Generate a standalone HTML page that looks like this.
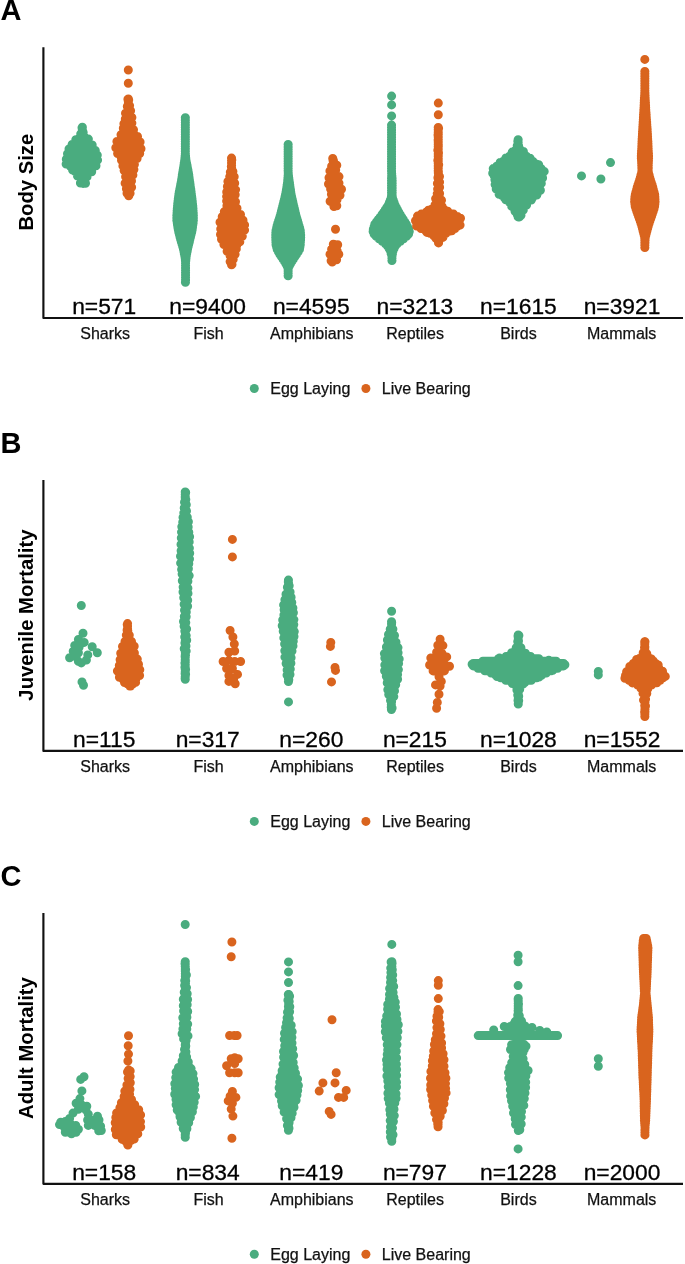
<!DOCTYPE html>
<html><head><meta charset="utf-8"><title>Figure</title>
<style>html,body{margin:0;padding:0;background:#fff}svg{display:block}text{font-family:"Liberation Sans",Arial,sans-serif}</style>
</head><body>
<svg width="685" height="1264" viewBox="0 0 685 1264">
<rect width="685" height="1264" fill="#fff"/>
<g fill="none" stroke-width="9" stroke-linecap="round">
<path d="M82.3 127.2H82.4M82.3 129.6H82.4M82.3 132.1H82.4M82.3 134.5H82.4M80.4 136.9H84.3M78.2 139.4H86.3M76.1 141.8H88.1M74 144.3H90M72.2 146.7H91.8M70.9 149.2H93.2M70.4 151.6H93.8M69.8 154.1H94.4M68.8 156.5H95.2M67.7 159H95.9M67.3 161.4H96.1M68.3 163.9H95M70.3 166.3H93.5M72.5 168.7H92M74.8 171.2H90.2M77.2 173.6H88M79.5 176.1H86M80.7 178.5H85M82 181H84M83 183.4H83.2M82 127.8h.01M80.7 133.9h.01M75.8 139.8h.01M72.1 144.4h.01M69 149h.01M67.5 153.7h.01M66.3 159.3h.01M66.1 164.1h.01M72.6 170.1h.01M77.5 176.1h.01M80.4 183h.01M82 127.7h.01M83.2 132.5h.01M88.4 139.1h.01M92.2 145h.01M95.3 150.5h.01M97.3 155.1h.01M97.6 160.1h.01M96 165.7h.01M91.7 171.7h.01M87 176.9h.01M85.5 183.2h.01" stroke="#4AAC7F"/>
<path d="M128.3 99H128.4M128.3 101.4H128.4M128.3 103.8H128.4M128.5 106.3H128.6M128.7 108.7H128.8M128.5 111.1H128.7M127.9 113.5H129M127.4 115.9H129.3M126.9 118.4H129.5M126.4 120.8H129.7M125.9 123.2H130.1M125.4 125.6H130.9M124.9 128H131.6M124.4 130.5H132.4M123.5 132.9H133.5M122.6 135.3H134.7M121.4 137.7H136M119.9 140.1H137.2M118.5 142.6H138.3M117.9 145H139.2M117.5 147.4H139.9M117.9 149.8H139.4M118.9 152.3H138.1M119.9 154.7H136.8M121.1 157.1H135.6M122.3 159.5H134.4M123.3 161.9H133.4M124 164.4H132.7M124.8 166.8H132M125.4 169.2H131.3M125.8 171.6H131.1M126.2 174H130.9M126.6 176.5H130.7M126.9 178.9H130.5M127.1 181.3H130.3M127.3 183.7H130.1M127.5 186.1H129.9M128 188.6H129.5M128.5 191H129M128.7 193.4H128.8M128.7 195.8H128.8M128.7 100h.01M127.3 106.4h.01M125.5 113.3h.01M125.3 118.9h.01M123.9 123.7h.01M123.3 128.3h.01M121 134.7h.01M116.9 141.4h.01M115.8 147.7h.01M117.6 153.6h.01M121.5 160.2h.01M122.9 165.9h.01M124.1 170.6h.01M125.6 176.7h.01M125.1 183.2h.01M126.4 188.7h.01M127 193.3h.01M127.9 99.2h.01M129.6 105.6h.01M130.6 110.8h.01M131.9 117.4h.01M131.9 123.1h.01M133.5 129.8h.01M137.5 136.4h.01M140.1 142h.01M141 148.7h.01M139.7 153.6h.01M137.1 158.6h.01M134.4 164.4h.01M133.9 169.5h.01M132.9 175.1h.01M131.5 181h.01M131.6 187.2h.01M130.1 193.2h.01M128.3 70h.01M128.3 83.2h.01" stroke="#D9641E"/>
<path d="M185.3 117.8H185.4M185.3 120.2H185.4M185.3 122.6H185.4M185.3 125H185.4M185.3 127.4H185.4M185.3 129.7H185.4M185.3 132.1H185.4M185.3 134.5H185.4M185.3 136.9H185.4M185.3 139.3H185.4M185.3 141.6H185.4M185.3 144H185.4M185.3 146.4H185.4M185.3 148.8H185.4M185.3 151.2H185.4M185.3 153.6H185.4M185.1 155.9H185.6M184.9 158.3H185.8M184.6 160.7H186.1M184.2 163.1H186.6M183.9 165.5H187.1M183.5 167.9H187.5M183.1 170.2H188M182.7 172.6H188.4M182.3 175H188.8M182 177.4H189.1M181.6 179.8H189.4M181.2 182.2H189.8M180.7 184.5H190.1M180.3 186.9H190.4M179.8 189.3H190.8M179.3 191.7H191.1M178.9 194.1H191.4M178.6 196.5H191.7M178.3 198.8H192M178 201.2H192.3M177.7 203.6H192.5M177.5 206H192.8M177.3 208.4H193M177.1 210.8H193.1M177 213.1H193.3M176.8 215.5H193.4M176.8 217.9H193.4M176.8 220.3H193.4M177.2 222.7H193.2M177.5 225H192.8M177.9 227.4H192.5M178.3 229.8H192.2M178.8 232.2H191.7M179.4 234.6H191.1M180 237H190.5M180.6 239.3H189.9M181.3 241.7H189.4M182 244.1H188.8M182.7 246.5H188.2M183.4 248.9H187.6M183.9 251.3H187.2M184.3 253.6H186.7M184.8 256H186.3M185.2 258.4H186M185.4 260.8H185.8M185.5 263.2H185.6M185.5 265.6H185.6M185.5 267.9H185.6M185.5 270.3H185.6M185.5 272.7H185.6M185.5 275.1H185.6M185.5 277.5H185.6M185.5 279.9H185.6M185.4 282.2H185.5" stroke="#4AAC7F"/>
<path d="M231.5 158.1H231.6M231.5 160.5H231.6M231.5 163H231.6M231.5 165.4H231.6M231.5 167.8H231.6M231.5 170.2H231.6M231.5 172.6H231.6M231.5 175.1H231.6M231.4 177.5H231.7M230.9 179.9H232.2M230.4 182.3H232.7M230.2 184.8H232.9M229.9 187.2H233.1M229.7 189.6H233.3M229.5 192H233.5M229.3 194.5H233.6M229.1 196.9H233.8M229 199.3H233.9M228.8 201.7H234.1M228.7 204.1H234.2M228.1 206.6H234.9M227.6 209H235.7M227 211.4H236.6M225.9 213.8H237.7M224.7 216.3H238.9M223.9 218.7H240M223 221.1H241M222.5 223.5H241.6M222.2 226H241.9M221.9 228.4H242.1M222 230.8H242.1M222.4 233.2H241.8M222.9 235.6H241.3M223.8 238.1H240.2M224.7 240.5H239.1M225.6 242.9H238M226.7 245.3H236.8M227.9 247.8H235.6M229.2 250.2H234.4M230.3 252.6H233.2M231.1 255H232.3M231.6 257.5H231.7M231.5 259.9H231.6M231.5 262.3H231.6M231.5 264.7H231.6M231.8 159.9h.01M231.3 166.6h.01M230.3 172.1h.01M229.7 176.8h.01M227.9 181.5h.01M227.4 186.5h.01M226.7 191.9h.01M226.6 196.4h.01M226.6 201.1h.01M226.9 205.7h.01M224.3 211.7h.01M222.2 216.8h.01M220 222.3h.01M220.7 228.9h.01M220.5 234.5h.01M221.5 239.3h.01M223.9 244.6h.01M227.1 251.2h.01M230.1 255.7h.01M230.1 261.6h.01M231.5 158.2h.01M231.6 165.1h.01M232.9 171.4h.01M234.2 176.8h.01M234.7 183.2h.01M235.6 189.6h.01M235.2 194.7h.01M235.5 201.7h.01M237 208.2h.01M240.5 214.5h.01M243 220.3h.01M244.6 224.9h.01M244.6 230.1h.01M242.3 236.3h.01M239.8 241.9h.01M236.3 248.9h.01M235.1 254.3h.01M233.2 259.4h.01M232 264.4h.01" stroke="#D9641E"/>
<path d="M288.1 144.5H288.2M288.1 146.9H288.2M288.1 149.3H288.2M288.1 151.7H288.2M288.1 154.1H288.2M288.1 156.5H288.2M288.1 158.8H288.2M288.1 161.2H288.2M288.1 163.6H288.2M288.1 166H288.2M288.1 168.4H288.2M288.1 170.8H288.2M288.2 173.1H288.3M288.1 175.5H288.5M287.9 177.9H288.8M287.7 180.3H289.1M287.5 182.7H289.5M287.1 185.1H289.8M286.8 187.5H290.1M286.4 189.8H290.5M286 192.2H290.8M285.5 194.6H291.2M285 197H291.7M284.4 199.4H292.3M283.8 201.8H292.8M283.2 204.1H293.3M282.6 206.5H293.9M282 208.9H294.5M281.4 211.3H295M280.8 213.7H295.6M280.1 216.1H296.2M279.4 218.4H296.9M278.6 220.8H297.6M277.8 223.2H298.3M277.1 225.6H299M276.6 228H299.7M276 230.4H300.3M275.8 232.8H300.5M275.7 235.1H300.7M275.7 237.5H300.7M275.8 239.9H300.6M275.9 242.3H300.4M276 244.7H300.3M276.6 247.1H299.9M277.2 249.4H299.5M278.4 251.8H298.2M279.8 254.2H296.6M281.3 256.6H295M282.9 259H293.5M284.5 261.4H291.9M285.9 263.7H290.5M287.1 266.1H289.3M288 268.5H288.3M288.1 270.9H288.2M288.1 273.3H288.2M288.1 275.7H288.2" stroke="#4AAC7F"/>
<path d="M332.7 158.4H332.8M333.4 160.8H333.5M333.7 163.2H333.8M333.5 165.6H333.6M333.2 168H333.6M332.4 170.4H333.9M331.8 172.8H334.3M331.5 175.2H335M331.1 177.6H335.7M331 180H336.4M331.2 182.4H337.1M331.3 184.8H337.8M332.1 187.2H338.4M333 189.6H338.4M333.6 192H337.9M333.5 194.4H336.7M333.2 196.8H335.8M333.1 199.2H335.3M333.1 201.6H334.9M333.3 204H334.5M333.9 206.5H334M333.2 160h.01M331.6 166.2h.01M329.9 170.9h.01M329 177.7h.01M328.5 184h.01M330.6 189h.01M331.4 194.3h.01M330.1 201.2h.01M333 160.3h.01M336.8 165.2h.01M335.7 170.1h.01M339 176.6h.01M339 183.1h.01M341.5 189.3h.01M340 195.2h.01M337 199.7h.01M336.8 205.8h.01M335.5 229.2h.01M333.3 244.2h.01M337.7 244.8h.01M331.6 249.2h.01M337.2 250.9h.01M330 254.2h.01M338.8 254.2h.01M333.8 256.4h.01M331.1 260.8h.01M336.6 259.7h.01M332.2 262h.01" stroke="#D9641E"/>
<path d="M391.5 125.1H391.6M391.5 127.5H391.6M391.5 129.9H391.6M391.5 132.3H391.6M391.5 134.8H391.6M391.5 137.2H391.6M391.5 139.6H391.6M391.5 142H391.6M391.5 144.4H391.6M391.5 146.9H391.6M391.5 149.3H391.6M391.5 151.7H391.6M391.5 154.1H391.6M391.5 156.5H391.6M391.5 159H391.6M391.5 161.4H391.6M391.5 163.8H391.6M391.5 166.2H391.6M391.5 168.6H391.6M391.5 171.1H391.6M391.6 173.5H391.7M391.6 175.9H391.9M391.5 178.3H392.1M391.5 180.7H392.2M391.5 183.2H392.2M391.5 185.6H392.2M391.5 188H392.2M391.5 190.4H392.2M391.5 192.8H392.2M391.5 195.3H392.2M391.2 197.7H392.5M390.3 200.1H393.3M389.4 202.5H394.1M388.4 204.9H395M386.8 207.4H396.3M385.3 209.8H397.5M383.7 212.2H398.8M381.9 214.6H400.3M380.1 217.1H401.8M378.3 219.5H403.3M376.4 221.9H404.9M374.8 224.3H406.3M374.1 226.7H407.5M373.3 229.2H408.8M373.1 231.6H409.3M374.1 234H408.6M376.2 236.4H406.5M379 238.8H403.6M382.2 241.3H400.4M385.4 243.7H397.2M387.5 246.1H395.3M389.1 248.5H394.1M390.5 250.9H393M391.1 253.4H392.5M391.8 255.8H392.1M391.9 258.2H392M391.9 260.6H392M391.6 96.1h.01M391.6 104.9h.01M391.6 115.9h.01" stroke="#4AAC7F"/>
<path d="M438.2 127.4H438.3M438.2 129.8H438.3M438.2 132.2H438.3M438.2 134.6H438.3M438.2 137H438.3M438.2 139.5H438.3M438.2 141.9H438.3M438.2 144.3H438.3M438.2 146.7H438.3M438.2 149.1H438.3M438.2 151.5H438.3M438.2 153.9H438.3M438.2 156.3H438.3M438.2 158.7H438.3M438.2 161.1H438.3M438.2 163.5H438.3M438.2 165.9H438.3M438.2 168.3H438.3M438.2 170.7H438.3M438.3 173.1H438.4M438.4 175.6H438.5M438.4 178H438.5M438.5 180.4H438.6M438.5 182.8H438.6M438.5 185.2H438.6M438.5 187.6H438.6M438.5 190H438.6M438.4 192.4H438.5M438 194.8H438.8M437.2 197.2H439.4M437 199.6H439.6M436.7 202H439.8M436.5 204.4H440.1M435.4 206.8H441.2M431.7 209.3H443.8M426.7 211.7H447.6M421.3 214.1H453.6M418.1 216.5H457.4M417.1 218.9H459M416.9 221.3H459.3M417.4 223.7H459M418.4 226.1H457.9M421 228.5H455M425.8 230.9H450.8M430 233.3H446M433.8 235.7H442.7M437 238.1H440.3M438.3 240.5H439M438.5 242.9H438.6M438.6 128.3h.01M438 134.9h.01M438.1 140h.01M438.3 145.1h.01M437.8 150.2h.01M438.3 155.1h.01M437.8 160.4h.01M438.3 166.4h.01M438.3 172h.01M437.9 177.7h.01M437.4 183.5h.01M437.6 189.1h.01M437.2 193.6h.01M435.6 198.6h.01M435 204.9h.01M428.4 210.2h.01M417.5 216.1h.01M415.5 220.8h.01M416.6 226h.01M426.9 232.4h.01M435.9 238.3h.01M438.4 128.3h.01M438.3 134.1h.01M438.2 140.3h.01M438.3 146.1h.01M438.5 153h.01M438.2 159.7h.01M438.7 164.8h.01M438.4 171.7h.01M439.5 176.5h.01M439.6 182.1h.01M439.6 187.2h.01M439.6 193.4h.01M441.5 200.2h.01M442.1 206.4h.01M447.7 211.3h.01M460.5 218.2h.01M460.1 225.1h.01M451.8 230.8h.01M442.9 237.4h.01M438.3 103.1h.01M438.3 114.7h.01" stroke="#D9641E"/>
<path d="M518.1 139.8H518.2M518.1 142.2H518.2M518.1 144.6H518.2M518 147H518.3M516.3 149.4H520.1M514.2 151.8H521.9M511.9 154.2H524M509 156.6H526.9M506 159H530M502.9 161.5H533M499.9 163.9H536M496.7 166.3H538.8M494.4 168.7H541.2M493.6 171.1H542.3M493.5 173.5H542.6M494.3 175.9H542.1M495.3 178.3H541.2M495.9 180.7H540.6M496.4 183.1H540.1M496.8 185.5H539.7M497.1 187.9H539.4M497.9 190.4H538.8M499.3 192.8H537.8M501.7 195.2H535.4M504.2 197.6H532.7M506.9 200H529.7M509.5 202.4H527.2M511.9 204.8H525M513.9 207.2H523.2M515.1 209.6H522M516.3 212H520.8M517.2 214.4H520.1M518.1 216.9H519.5M518 140.8h.01M517.2 145.8h.01M512.2 152.1h.01M505.9 158h.01M500.1 162.5h.01M493.2 168.6h.01M492.7 173.3h.01M494.9 179.7h.01M495.1 184.5h.01M496.2 189.1h.01M499.1 194.3h.01M505.8 199.8h.01M511.7 206.4h.01M515 211.2h.01M517.8 141.2h.01M518.6 145.8h.01M523.4 151.4h.01M530.1 158.2h.01M538.7 164.7h.01M544.2 171.4h.01M542.6 178h.01M541.3 183.4h.01M540.4 190.2h.01M536.8 195h.01M531.3 200.1h.01M526.6 205h.01M523.3 210h.01M521 215.3h.01" stroke="#4AAC7F"/>
<path d="M581.5 175.9h.01M600.9 179h.01M610.5 162.6h.01" stroke="#4AAC7F"/>
<path d="M644.8 71.4H644.9M644.8 73.8H644.9M644.8 76.2H644.9M644.8 78.6H644.9M644.8 81H644.9M644.8 83.4H644.9M644.8 85.8H644.9M644.8 88.3H644.9M644.8 90.7H644.9M644.7 93.1H645M644.6 95.5H645.1M644.4 97.9H645.2M644.3 100.3H645.3M644.2 102.7H645.5M644.1 105.2H645.6M644 107.6H645.7M643.8 110H645.8M643.7 112.4H646M643.5 114.8H646.2M643.4 117.2H646.3M643.3 119.6H646.5M643.1 122.1H646.7M643 124.5H646.8M642.8 126.9H647M642.7 129.3H647.2M642.5 131.7H647.3M642.4 134.1H647.5M642.3 136.5H647.6M642.1 139H647.7M642 141.4H647.9M641.9 143.8H648M641.8 146.2H648.1M641.7 148.6H648.2M641.5 151H648.3M641.4 153.4H648.5M641.3 155.9H648.6M641.3 158.3H648.6M641.5 160.7H648.5M641.6 163.1H648.4M641.7 165.5H648.3M641.8 167.9H648.3M641.9 170.3H648.2M641.6 172.8H648.5M640.9 175.2H649.2M640.3 177.6H649.8M639.6 180H650.5M638.8 182.4H651.3M638 184.8H652.1M637.2 187.2H652.8M636.6 189.7H653.4M635.9 192.1H654.1M635.3 194.5H654.7M634.9 196.9H654.9M634.7 199.3H655M634.6 201.7H655.1M634.9 204.1H654.9M635.2 206.5H654.6M636 209H654M636.8 211.4H653.2M637.6 213.8H652.4M638.5 216.2H651.6M639.3 218.6H650.8M640.2 221H649.9M641 223.4H649.1M641.8 225.9H648.3M642.4 228.3H647.7M643 230.7H647M643.6 233.1H646.4M644.2 235.5H645.8M644.7 237.9H645.2M644.8 240.3H645.1M644.8 242.8H645M644.8 245.2H644.9M644.8 247.6H644.9M644.8 59.4h.01" stroke="#D9641E"/>
<path d="M81.3 605.5h.01M83 633.2h.01M78.4 639.5h.01M84.2 642.4h.01M74.7 645.4h.01M92.2 646.8h.01M73.2 651.2h.01M78.4 652.7h.01M97.3 652.7h.01M69.6 657.8h.01M76.2 657h.01M87.8 654.9h.01M79.1 647.3h.01M78.4 661.4h.01M86.4 660h.01M81.3 662.9h.01M82 681.9h.01M83.5 685.2h.01" stroke="#4AAC7F"/>
<path d="M127.5 623.6H127.6M127.5 626H127.6M127.5 628.4H127.6M127.7 630.8H127.8M127.8 633.2H127.9M127.9 635.6H128M127.9 638H128M127.6 640.4H128.3M126.5 642.8H129.5M125.3 645.2H130.7M124.6 647.6H131.6M124.2 650H132.2M123.8 652.4H132.8M123.4 654.9H133.4M122.9 657.3H134.1M122.4 659.7H134.8M121.9 662.1H135.5M121.2 664.5H136M120.5 666.9H136.5M119.8 669.3H136.9M119.5 671.7H137.2M119.6 674.1H137.3M120.5 676.5H136.7M122.5 678.9H135.9M124.9 681.3H134.7M127.3 683.7H133.1M129.7 686.1H130.7M127.2 624.6h.01M127.1 630h.01M126.3 635.1h.01M125 641.4h.01M122.5 646.4h.01M120.7 653.2h.01M120.1 659.8h.01M119.3 665.5h.01M117.4 671h.01M119.4 677.2h.01M124.5 682.6h.01M127.4 624.9h.01M127.1 630.2h.01M129.3 635.1h.01M131.5 641.4h.01M134.2 646.3h.01M134.4 652.9h.01M137.3 659.1h.01M138.5 664.2h.01M139.8 669.8h.01M139.6 675.5h.01M135.6 682.4h.01" stroke="#D9641E"/>
<path d="M185.2 492H185.3M185.2 494.4H185.3M185.2 496.8H185.3M185.3 499.2H185.4M185.3 501.6H185.4M185.3 504H185.4M185.4 506.4H185.5M185.4 508.8H185.5M185.4 511.2H185.5M185.2 513.6H185.6M184.9 516H185.9M184.7 518.4H186.1M184.4 520.8H186.4M184.2 523.2H186.6M184 525.6H186.8M183.7 528H187.1M183.5 530.4H187.3M183.2 532.8H187.4M183 535.2H187.5M182.8 537.6H187.7M182.5 540H187.8M182.4 542.4H187.9M182.3 544.8H188M182.2 547.2H188.1M182.1 549.6H188.2M182 552H188.3M182.1 554.4H188.2M182.2 556.8H188.1M182.3 559.2H188M182.4 561.6H187.9M182.5 564H187.8M182.7 566.4H187.7M182.8 568.8H187.5M183 571.2H187.4M183.1 573.6H187.2M183.3 576H187.1M183.5 578.4H186.9M183.7 580.8H186.8M183.9 583.2H186.6M184 585.6H186.5M184.2 588H186.4M184.4 590.4H186.3M184.5 592.8H186.2M184.6 595.2H186.1M184.8 597.6H186M184.9 600H185.9M185.1 602.4H185.8M185.2 604.8H185.7M185.4 607.2H185.6M185.5 609.6H185.6M185.4 612H185.5M185.3 614.4H185.4M185.3 616.8H185.4M185.2 619.2H185.3M185.1 621.6H185.2M185.2 624H185.3M185.2 626.4H185.3M185.3 628.8H185.4M185.3 631.2H185.4M185.4 633.6H185.5M185.3 636H185.4M185.3 638.4H185.4M185.3 640.8H185.4M185.3 643.2H185.4M185.3 645.6H185.4M185.3 648H185.4M185.3 650.4H185.4M185.3 652.8H185.4M185.2 655.2H185.3M185.2 657.6H185.3M185.2 660H185.3M185.2 662.4H185.3M185.2 664.8H185.3M185.2 667.2H185.3M185.2 669.6H185.3M185.2 672H185.3M185.2 674.4H185.3M185.2 676.8H185.3M185.2 679.2H185.3M185.7 492.5h.01M185.2 497.8h.01M184.5 502.3h.01M184.2 508h.01M183.8 513h.01M183 517.5h.01M182.7 522.2h.01M181.8 526.8h.01M181.5 532.1h.01M181.3 538h.01M181 544.4h.01M181.1 550.7h.01M180.5 556.2h.01M180.6 563.1h.01M181.6 569.5h.01M182.1 574.1h.01M182.3 580.8h.01M183.1 587.1h.01M183 592h.01M183.7 597.7h.01M184.1 604.2h.01M184.5 610.2h.01M184.3 616.4h.01M183.5 621.5h.01M184.1 626.3h.01M184.8 631.1h.01M184.7 637h.01M184.9 643h.01M184.2 648.8h.01M185.5 655.3h.01M185.3 661h.01M184.9 667.2h.01M185.1 673.5h.01M185.1 678.2h.01M185.5 492.4h.01M185.8 499.4h.01M186.3 504.8h.01M186.5 511h.01M187.3 517.1h.01M188.4 521.8h.01M188.2 526.9h.01M188.8 532.2h.01M189.6 536.7h.01M189.2 541.9h.01M189.4 548.1h.01M189.7 553.3h.01M189.5 559h.01M188.8 563.8h.01M188.4 568.8h.01M189.2 575.6h.01M187.9 581.3h.01M187.9 588.2h.01M188 593.4h.01M187.7 600.2h.01M187.6 606.2h.01M186.3 612h.01M186.2 616.8h.01M185.8 622.6h.01M186.6 628.9h.01M186.2 635.6h.01M186.7 640.2h.01M186 645.9h.01M186.2 651.1h.01M185.1 656.5h.01M184.9 663.1h.01M185.6 669.5h.01M185.6 674.3h.01" stroke="#4AAC7F"/>
<path d="M232.4 539.4h.01M232.4 556.9h.01M230.1 630.5h.01M232.9 637h.01M234.3 644h.01M228.9 652.2h.01M234.7 651h.01M223.1 661.5h.01M228.9 660.4h.01M234.7 661.5h.01M240.6 661.5h.01M226.6 668.5h.01M232.4 668.5h.01M237.5 674.4h.01M228.9 675.5h.01M233.6 679.1h.01M228.9 681.4h.01M235.2 683.7h.01" stroke="#D9641E"/>
<path d="M288.4 580.1H288.5M288.4 582.5H288.5M288.4 584.9H288.5M288.4 587.3H288.5M288.4 589.7H288.5M287.7 592.2H289.2M287.3 594.6H289.5M286.9 597H289.8M286.5 599.4H290M286.1 601.8H290.3M285.7 604.2H290.6M285.4 606.7H290.9M285.2 609.1H291.2M285.1 611.5H291.5M284.9 613.9H291.7M284.7 616.3H292M284.6 618.7H292.3M284.4 621.2H292.5M284.2 623.6H292.7M284 626H292.9M283.8 628.4H293.1M284.1 630.8H292.9M284.4 633.2H292.6M284.6 635.6H292.3M284.9 638.1H292M285.2 640.5H291.7M285.5 642.9H291.5M285.7 645.3H291.2M286 647.7H291M286.2 650.1H290.7M286.4 652.6H290.5M286.7 655H290.3M286.9 657.4H290M287.2 659.8H289.7M287.5 662.2H289.4M287.8 664.6H289.1M288.1 667.1H288.9M288.3 669.5H288.6M288.4 671.9H288.5M288.4 674.3H288.5M288.4 676.7H288.5M288.4 679.1H288.5M288.4 681.6H288.5M288.3 581.9h.01M287.4 587.3h.01M286 594.3h.01M284.9 599.7h.01M283.6 604.9h.01M284.1 609.7h.01M283.9 614.9h.01M282.7 620h.01M282.2 625.8h.01M283.2 631.2h.01M283.8 637.9h.01M284.6 644h.01M284.8 650.8h.01M284.9 657.1h.01M286.1 663.5h.01M287.1 669.9h.01M287 675.1h.01M288.4 580.3h.01M289.2 585.7h.01M290.1 592h.01M291.1 597.2h.01M291.8 602.4h.01M292.9 607.9h.01M293.4 612.8h.01M293.9 619.6h.01M293.8 624.6h.01M294.3 631.6h.01M294 636.5h.01M293.3 641.2h.01M293 645.9h.01M292 651.1h.01M291.1 657.8h.01M290.9 663.3h.01M290.3 669.1h.01M290 674.5h.01M288.8 679.7h.01M288.5 701.9h.01" stroke="#4AAC7F"/>
<path d="M330.8 642.4h.01M330.4 646.4h.01M335 667.4h.01M335.5 670.4h.01M331.5 681.9h.01" stroke="#D9641E"/>
<path d="M391.5 621.7H391.6M391.5 624H391.6M391.5 626.4H391.6M391.4 628.8H391.5M391.4 631.2H391.5M390.6 633.5H392.1M390 635.9H392.8M389.4 638.3H393.5M388.8 640.7H394.2M388.2 643H394.9M387.7 645.4H395.6M387.3 647.8H396.1M387 650.2H396.4M386.6 652.5H396.7M386.3 654.9H397.1M386 657.3H397.4M386.1 659.7H397.3M386.2 662.1H397.2M386.3 664.4H397.1M386.4 666.8H397M386.5 669.2H396.8M386.8 671.6H396.6M387 673.9H396.4M387.2 676.3H396.1M387.5 678.7H395.9M387.9 681.1H395.5M388.3 683.4H395M388.8 685.8H394.5M389.3 688.2H394.1M389.8 690.6H393.6M390.2 693H393M390.7 695.3H392.4M391.2 697.7H391.8M391.4 700.1H391.5M391.3 702.5H391.4M391.3 704.8H391.4M391.4 707.2H391.5M391.4 709.6H391.5M391.7 622.7h.01M390.2 629.3h.01M388.5 634.5h.01M387.4 640h.01M386.4 646.9h.01M384.4 653.6h.01M384.8 658.1h.01M384.8 664.9h.01M384.6 670.8h.01M386.3 676.3h.01M387.2 682.9h.01M387.8 689.8h.01M388.7 694.6h.01M390.5 700.4h.01M391.2 707.3h.01M391.5 623.2h.01M392.9 629.1h.01M394.5 635.5h.01M396 642.3h.01M398 647.6h.01M398.1 652.7h.01M399.2 659h.01M398.6 663.6h.01M398.4 669.6h.01M397.6 674.6h.01M397.6 679.2h.01M395.7 684.8h.01M394.5 690.9h.01M393.8 696.6h.01M391.6 701.7h.01M392.1 708h.01M391.6 611.3h.01" stroke="#4AAC7F"/>
<path d="M440.1 639.3h.01M437.8 645.2h.01M442.9 645.6h.01M436.6 652.2h.01M442 653.4h.01M430.8 658h.01M435.5 659.2h.01M441.3 659.2h.01M446.7 656.9h.01M429.6 665h.01M434.3 665h.01M440.1 665.7h.01M445.3 665h.01M449.5 666.2h.01M433.1 670.9h.01M439 671.3h.01M444.4 670.9h.01M439 676.7h.01M441.3 681.4h.01M435.5 684.9h.01M440.1 686.1h.01M439 694.2h.01M437.3 702.4h.01M436.6 708.2h.01" stroke="#D9641E"/>
<path d="M518.2 635H518.3M518.2 637.4H518.3M518.2 639.8H518.3M518.2 642.1H518.3M518.2 644.5H518.3M517.2 646.9H519.3M516.1 649.3H520.4M514.2 651.7H522.3M511.3 654H525.2M506.1 656.4H530.6M498.4 658.8H538.9M482.8 661.2H556.2M473.2 663.5H563.6M473.2 665.9H563.6M478 668.3H557.7M485.1 670.7H551.4M491.1 673.1H546.3M495.9 675.4H541.5M500.6 677.8H536.8M505.8 680.2H531.3M511.8 682.6H524.8M515.2 684.9H521.3M517.3 687.3H519.2M518 689.7H518.5M518.2 692.1H518.3M518.2 694.5H518.3M518.2 696.8H518.3M518.2 699.2H518.3M518.2 701.6H518.3M518.2 704H518.3M518 636h.01M517.7 641.6h.01M516.2 647.7h.01M511.6 652.8h.01M499.5 658.1h.01M472.1 664.3h.01M484.8 670.8h.01M497 676.6h.01M512.3 683.5h.01M516.9 690.1h.01M517.7 695.1h.01M518 700.4h.01M518.9 635.4h.01M518.5 640.9h.01M520.9 647.8h.01M525.4 653.3h.01M548.8 660.2h.01M564.9 664.8h.01M552.8 670.3h.01M539.1 677h.01M523.1 684h.01M519.7 689.4h.01M518.7 696.2h.01M518.7 700.8h.01" stroke="#4AAC7F"/>
<path d="M598.3 671.5h.01M598.3 674.9h.01" stroke="#4AAC7F"/>
<path d="M644.7 641.7H644.8M644.7 644.1H644.8M644.7 646.5H644.8M644.7 648.9H644.8M644.7 651.4H644.8M644 653.8H645.6M642.3 656.2H647.2M639.3 658.6H650.3M636.1 661H653.3M633.3 663.4H655.7M631.5 665.8H657.4M630 668.2H658.9M628.3 670.6H660.7M626.5 673.1H662.7M625.5 675.5H663.7M625.8 677.9H663.1M629 680.3H660.2M633.1 682.7H656.4M637.6 685.1H651.5M641.1 687.5H647.9M642.9 689.9H646.5M644 692.4H645.6M644.4 694.8H645.3M644.8 697.2H645.1M644.9 699.6H645M644.9 702H645M644.9 704.4H645M644.9 706.8H645M644.9 709.2H645M644.9 711.7H645M644.8 714.1H644.9M644.8 716.5H644.9M644.7 642.5h.01M644.5 647.4h.01M643.2 652.6h.01M636.6 659.5h.01M629.8 666.4h.01M626.6 671.8h.01M624.9 678.3h.01M632.4 682.9h.01M641 688.4h.01M643 693.4h.01M643.5 700.1h.01M644.7 705.6h.01M644.6 712h.01M645 641.8h.01M644.9 647h.01M646.8 653.7h.01M651.4 658.9h.01M658.2 664.9h.01M662.5 671.2h.01M665.3 676.4h.01M656.9 682.8h.01M647.7 688.9h.01M646.8 693.5h.01M645.6 699.1h.01M645.5 706h.01M644.9 711.2h.01" stroke="#D9641E"/>
<path d="M84 1076.8h.01M80.7 1079.4h.01M81.9 1090.9h.01M79.9 1098.6h.01M76.1 1103.2h.01M81.4 1104.7h.01M86.8 1106.2h.01M78.4 1109.3h.01M86 1110.1h.01M73 1113.1h.01M69.6 1118.5h.01M88.3 1114.2h.01M97.5 1116.2h.01M60.7 1122.3h.01M65.3 1121.6h.01M69.9 1123.1h.01M87.6 1120h.01M93.7 1120.3h.01M99 1120h.01M59.5 1124.6h.01M64.6 1127.7h.01M70.7 1127.7h.01M75.8 1125.4h.01M78.4 1129.2h.01M88.3 1125.4h.01M94.5 1125.4h.01M100.6 1126.2h.01M65.3 1132.3h.01M71.5 1133.8h.01M76.1 1132.3h.01M101.3 1130.5h.01M98.7 1130.8h.01" stroke="#4AAC7F"/>
<path d="M128.8 1070.1H128.9M128.9 1072.5H129M129 1074.9H129.1M129.1 1077.4H129.2M129 1079.8H129.1M128.8 1082.2H128.9M128.5 1084.6H128.6M128.2 1087H128.3M127.8 1089.4H127.9M127.4 1091.8H127.7M127 1094.3H127.9M126.7 1096.7H128.5M126.4 1099.1H129.1M125.4 1101.5H130.2M123.9 1103.9H132M122.4 1106.3H133.8M121.4 1108.7H135.2M120.5 1111.2H136.4M119.6 1113.6H137.3M118.7 1116H137.7M117.8 1118.4H138.1M117.2 1120.8H138.2M116.6 1123.2H138.3M116.3 1125.6H138.2M116.4 1128.1H137.8M116.9 1130.5H137.1M118.4 1132.9H136M119.9 1135.3H134.8M122.6 1137.7H133.3M125.4 1140.1H131.7M126.6 1142.5H128.9M127.8 1145H127.9M127.5 1072h.01M128.1 1078.5h.01M126.9 1085h.01M124.8 1091.1h.01M124.1 1096.4h.01M121.4 1102.8h.01M119.9 1107.8h.01M116.6 1112.9h.01M115.8 1117.5h.01M115.2 1122.8h.01M115.3 1129.5h.01M116.3 1134.7h.01M122.2 1139.4h.01M130.2 1071h.01M130.2 1076.6h.01M130.3 1082.7h.01M130 1089.4h.01M129.6 1094.2h.01M131.5 1099.4h.01M134.7 1104.8h.01M138.7 1109.8h.01M140.6 1114.9h.01M140.5 1121.6h.01M140.7 1127h.01M137.8 1133.9h.01M134.2 1139h.01M128.5 1035.7h.01M128.2 1045.7h.01M128.5 1054.1h.01M127.9 1061h.01M128.5 1070.2h.01" stroke="#D9641E"/>
<path d="M185.2 961.7H185.3M185.2 964.1H185.3M185.2 966.5H185.3M185.3 968.9H185.4M185.3 971.3H185.4M185.3 973.7H185.4M185.3 976.2H185.4M185.3 978.6H185.4M185.4 981H185.5M185.4 983.4H185.5M185.4 985.8H185.5M185.4 988.2H185.5M185.4 990.6H185.5M185.3 993H185.4M185 995.4H185.7M185 997.8H185.7M184.9 1000.2H185.7M184.9 1002.6H185.7M184.9 1005H185.7M184.8 1007.4H185.8M184.8 1009.8H185.8M184.8 1012.2H185.8M184.7 1014.6H185.8M184.7 1017H185.8M184.7 1019.4H185.8M184.7 1021.8H185.9M184.6 1024.2H185.9M184.6 1026.6H185.9M184.6 1029.1H185.9M184.5 1031.5H186M183.9 1033.9H186.4M184 1036.3H186.4M184.9 1038.7H185.7M185.3 1041.1H185.4M185.4 1043.5H185.5M185.4 1045.9H185.5M185.3 1048.3H185.4M185.3 1050.7H185.4M185.2 1053.1H185.3M185.1 1055.5H185.2M184.8 1057.9H185.5M184.3 1060.3H185.9M182.9 1062.7H187.1M181.4 1065.1H188.3M179.9 1067.5H189.5M178.5 1069.9H190.6M178 1072.3H191M177.6 1074.7H191.4M177.2 1077.1H191.8M177 1079.5H192.2M176.9 1081.9H192.5M176.8 1084.4H192.7M176.7 1086.8H193M176.6 1089.2H193.3M176.5 1091.6H193.6M176.4 1094H193.8M176.6 1096.4H193.6M176.9 1098.8H193.3M177.1 1101.2H193.1M177.4 1103.6H192.9M177.8 1106H192.4M178.4 1108.4H191.8M179 1110.8H191.2M179.6 1113.2H190.6M180.5 1115.6H189.8M181.4 1118H188.9M182.3 1120.4H188M183.2 1122.8H187.1M183.9 1125.2H186.3M184.7 1127.6H185.6M185.1 1130H185.2M185.2 1132.4H185.3M185.2 1134.8H185.3M185.2 1137.3H185.3M185 963.7h.01M185.6 969.4h.01M185.4 976h.01M184.7 980.6h.01M184.6 985.4h.01M184.2 992.3h.01M183.3 999.2h.01M183.3 1005.8h.01M183.6 1011h.01M182.8 1017.8h.01M183.3 1023.8h.01M182.9 1028.9h.01M182.1 1033.7h.01M183.6 1038.9h.01M185.2 1045h.01M184.5 1049.5h.01M183.3 1055.7h.01M182.1 1061h.01M178.5 1067.5h.01M176.1 1072.1h.01M175.7 1077.6h.01M174.8 1083.7h.01M175.3 1088.6h.01M174.7 1094.2h.01M176 1099.4h.01M176.1 1104.7h.01M177.2 1110.1h.01M180 1116.8h.01M181.1 1122.2h.01M183.2 1128.5h.01M185.5 1133h.01M185.2 963.4h.01M185.3 970.1h.01M186.4 975h.01M185.7 980.9h.01M186.5 987.6h.01M187.2 993.7h.01M187.6 999.5h.01M187.2 1004.7h.01M187.7 1011.5h.01M186.9 1017.2h.01M187.7 1024.1h.01M186.8 1028.9h.01M188 1035.9h.01M186.1 1040.5h.01M185.8 1046h.01M185.9 1052h.01M186.6 1056.9h.01M188.3 1062h.01M191.1 1068.6h.01M193 1073.6h.01M193.6 1079.1h.01M194.7 1084.5h.01M194.6 1089.6h.01M195.6 1096.4h.01M194.2 1102.3h.01M193.3 1106.9h.01M192.4 1111.7h.01M190.4 1117.5h.01M188.7 1122.8h.01M186.9 1128.8h.01M185.2 1134.9h.01M185.2 924.5h.01" stroke="#4AAC7F"/>
<path d="M231.9 942h.01M231.2 956.8h.01M229.6 1035.5h.01M234.3 1035.5h.01M237.1 1035.5h.01M231.2 1058.8h.01M234.7 1057.7h.01M238.2 1058.8h.01M226.6 1065.8h.01M234.7 1063.5h.01M229.6 1072.8h.01M234.7 1072.8h.01M238.2 1072.8h.01M232.4 1091.5h.01M230.1 1096.2h.01M235.9 1097.4h.01M228.2 1100.9h.01M232.4 1103.2h.01M231.2 1109.1h.01M232.9 1116.1h.01M231.9 1138.2h.01" stroke="#D9641E"/>
<path d="M288.7 994.4H288.8M288.7 996.8H288.8M288.7 999.2H288.8M288.7 1001.6H288.8M288.6 1004H288.7M288.6 1006.3H288.7M288.6 1008.7H288.7M288.5 1011.1H288.6M288.5 1013.5H288.6M288.4 1015.9H288.5M288.4 1018.3H288.5M288.4 1020.6H288.5M288 1023H288.9M287.6 1025.4H289.4M287.1 1027.8H289.9M286.8 1030.2H290.2M286.6 1032.6H290.3M286.5 1034.9H290.5M286.3 1037.3H290.6M286.2 1039.7H290.8M286 1042.1H290.9M285.9 1044.5H291M285.7 1046.8H291.2M285.6 1049.2H291.3M285.5 1051.6H291.5M285.4 1054H291.6M285.3 1056.4H291.7M285.2 1058.8H291.8M285.1 1061.1H291.9M285 1063.5H292M284.5 1065.9H292.5M283.7 1068.3H293.2M283 1070.7H293.9M282.3 1073.1H294.6M281.6 1075.4H295.3M281.2 1077.8H295.8M280.8 1080.2H296.1M280.5 1082.6H296.4M280.2 1085H296.8M280 1087.4H297M280.3 1089.7H296.6M280.6 1092.1H296.3M281 1094.5H296M281.3 1096.9H295.6M281.9 1099.3H295M282.6 1101.7H294.3M283.3 1104H293.6M284 1106.4H292.9M284.8 1108.8H292.2M285.6 1111.2H291.3M286.5 1113.6H290.5M287.3 1115.9H289.6M288.2 1118.3H288.7M288.4 1120.7H288.5M288.4 1123.1H288.5M288.4 1125.5H288.5M288.4 1127.9H288.5M288.4 1130.2H288.5M288.3 994.5h.01M287.9 1000.2h.01M288.4 1006.6h.01M287.5 1012.3h.01M287.1 1017.9h.01M286.5 1022.8h.01M285.6 1027.5h.01M284.5 1033.3h.01M284.2 1039.4h.01M284.7 1045.7h.01M283.5 1051.5h.01M283.6 1057.2h.01M283 1064.1h.01M282.1 1070.7h.01M280.2 1077.1h.01M279.7 1082.1h.01M279.1 1087.8h.01M279.1 1094.6h.01M281.5 1101h.01M282.2 1105.7h.01M284.1 1112.1h.01M286.6 1118.8h.01M287.4 1125.4h.01M289.6 996.3h.01M289.2 1001.4h.01M289.8 1006.7h.01M289.6 1011.7h.01M289.3 1018.5h.01M291.2 1025.3h.01M292.2 1031.7h.01M291.9 1037.5h.01M292 1042.9h.01M292.7 1048.8h.01M293.6 1055.5h.01M293.2 1062.5h.01M294.2 1068h.01M295.5 1073.2h.01M297.6 1079.1h.01M298.4 1085.5h.01M297.7 1090.5h.01M297 1095.1h.01M296.1 1100.2h.01M294 1107.2h.01M292.2 1113.3h.01M291 1117.8h.01M289.1 1122.7h.01M289 1128.3h.01M288.5 961.9h.01M288.5 971.9h.01M288.5 982.5h.01" stroke="#4AAC7F"/>
<path d="M332 1019.8h.01M336.2 1072.8h.01M322.9 1082.9h.01M335 1082.9h.01M319.2 1091.1h.01M346.2 1090.4h.01M338.5 1097.4h.01M343.7 1097.4h.01M329.2 1111.4h.01M331.1 1114.4h.01" stroke="#D9641E"/>
<path d="M391.8 961.7H391.9M391.8 964.1H391.9M391.8 966.5H391.9M391.9 968.9H392M391.9 971.3H392M391.8 973.7H391.9M391.8 976.1H391.9M391.8 978.5H391.9M391.8 980.9H391.9M391.7 983.3H391.8M391.7 985.7H391.9M391.5 988.1H392M391.3 990.4H392.1M391.2 992.8H392.2M390.9 995.2H392.5M390.6 997.6H392.9M390.2 1000H393.2M389.9 1002.4H393.6M389.6 1004.8H394M389.2 1007.2H394.4M388.8 1009.6H394.7M388.4 1012H395M388.1 1014.4H395.4M387.7 1016.8H395.7M387.4 1019.2H396M387.1 1021.6H396.2M386.9 1024H396.5M386.7 1026.3H396.7M386.5 1028.7H396.9M386.9 1031.1H396.6M387.2 1033.5H396.4M387.5 1035.9H396.2M387.9 1038.3H395.9M388.1 1040.7H395.7M388.3 1043.1H395.6M388.4 1045.5H395.4M388.5 1047.9H395.3M388.7 1050.3H395.1M388.7 1052.7H395M388.6 1055.1H395M388.4 1057.5H395M388.3 1059.9H395M388.2 1062.2H395M388.1 1064.6H395M388.3 1067H394.9M388.4 1069.4H394.8M388.6 1071.8H394.7M388.7 1074.2H394.6M388.9 1076.6H394.6M389 1079H394.6M389.2 1081.4H394.6M389.3 1083.8H394.6M389.4 1086.2H394.6M389.5 1088.6H394.5M389.6 1091H394.4M389.7 1093.4H394.3M389.8 1095.8H394.2M389.9 1098.1H394.1M390.2 1100.5H393.8M390.4 1102.9H393.6M390.6 1105.3H393.3M390.9 1107.7H393M391.1 1110.1H392.7M391.3 1112.5H392.5M391.4 1114.9H392.3M391.5 1117.3H392.1M391.7 1119.7H392M391.7 1122.1H391.8M391.7 1124.5H391.8M391.7 1126.9H391.8M391.7 1129.3H391.8M391.6 1131.6H391.7M391.6 1134H391.7M391.7 1136.4H391.8M391.7 1138.8H391.8M391.7 1141.2H391.8M391.1 962h.01M390.7 968.1h.01M390.9 972.6h.01M390.6 977.4h.01M390.5 982.5h.01M389.6 988.4h.01M389.5 994.5h.01M389.4 999.3h.01M387.7 1004.4h.01M387.6 1009.2h.01M386.7 1015.9h.01M385.4 1021.4h.01M385.4 1025.9h.01M385.3 1031.8h.01M386.3 1037.9h.01M387.2 1044.7h.01M387.7 1049.9h.01M387.2 1054.5h.01M386.5 1060h.01M387 1064.6h.01M387 1069.2h.01M386.9 1076h.01M387.8 1081h.01M388.2 1086.8h.01M387.9 1093.3h.01M388.2 1098.6h.01M389.4 1103.2h.01M389.8 1109.7h.01M390.3 1114.2h.01M390.2 1120.6h.01M390.5 1126.9h.01M390.3 1132h.01M390.5 1137.1h.01M392.1 963.2h.01M392.3 969.8h.01M392.7 975h.01M392.7 980.6h.01M393.7 986.4h.01M393.1 992.5h.01M393.9 997.5h.01M395.3 1002.1h.01M395.5 1007.2h.01M396.5 1014h.01M397 1019.4h.01M398.3 1024.7h.01M397.9 1031.4h.01M397.3 1037.7h.01M397 1044.6h.01M396.3 1051.2h.01M396.6 1057.9h.01M396.4 1064.2h.01M396.6 1069.5h.01M396.6 1075.5h.01M396.5 1082.3h.01M396.5 1086.9h.01M396 1093.7h.01M396.1 1098.5h.01M394.8 1103.1h.01M394 1109.2h.01M394.3 1115.6h.01M393.4 1121.5h.01M392.5 1128.1h.01M393 1134.8h.01M391.8 944.4h.01" stroke="#4AAC7F"/>
<path d="M438 1009.6H438.1M438 1012H438.1M438 1014.4H438.1M438 1016.8H438.1M438 1019.2H438.1M438 1021.6H438.1M438.1 1024H438.2M438.1 1026.3H438.2M438.1 1028.7H438.2M438 1031.1H438.4M437.9 1033.5H438.6M437.7 1035.9H438.7M437.6 1038.3H438.9M437.4 1040.7H439.1M437.1 1043.1H439.4M436.8 1045.5H439.7M436.4 1047.9H440M436.1 1050.2H440.3M435.8 1052.6H440.6M435.4 1055H440.9M435.1 1057.4H441.2M434.8 1059.8H441.6M434.4 1062.2H441.9M434.1 1064.6H442.2M433.7 1067H442.6M433.3 1069.4H442.9M432.9 1071.8H443.2M432.6 1074.2H443.6M432.3 1076.5H443.8M432.3 1078.9H444M432.3 1081.3H444.1M432.3 1083.7H444.3M432.3 1086.1H444.4M432.5 1088.5H444.3M432.7 1090.9H444M433 1093.3H443.8M433.2 1095.7H443.6M433.5 1098.1H443.3M434.1 1100.4H442.7M434.7 1102.8H442.1M435.4 1105.2H441.6M436 1107.6H441M436.6 1110H440.3M437.2 1112.4H439.6M437.7 1114.8H438.8M438.2 1117.2H438.3M438.1 1119.6H438.2M438 1122H438.1M438 1124.4H438.1M438 1126.7H438.1M438.2 1011.4h.01M437 1016.2h.01M436.4 1021h.01M436.9 1027.6h.01M436.5 1033.7h.01M435.3 1039.8h.01M434.4 1044.5h.01M433.7 1050.9h.01M433.3 1056.2h.01M432.4 1060.8h.01M432.3 1066h.01M430.9 1071.4h.01M430.5 1078.3h.01M430.7 1084.9h.01M430.6 1089.5h.01M431.7 1095.1h.01M432.6 1100.5h.01M433.4 1106.3h.01M434.8 1113h.01M436.5 1119.5h.01M437.7 1124h.01M439.3 1011.6h.01M438.7 1017.3h.01M439.9 1023.8h.01M440.3 1029.5h.01M441 1036.1h.01M441.6 1043h.01M441.6 1048h.01M443.1 1053.7h.01M444 1059.8h.01M444 1066.3h.01M445 1072.8h.01M445.9 1078.2h.01M445.5 1083.6h.01M445.6 1088.4h.01M446.1 1092.9h.01M444.5 1098.1h.01M443.9 1103.8h.01M442.4 1110.5h.01M440.2 1116.2h.01M438.2 1122.6h.01M438.3 980.6h.01M438.3 985.3h.01M438.3 998.6h.01" stroke="#D9641E"/>
<path d="M518.2 998.5H518.3M518.2 1000.9H518.3M518.2 1003.4H518.3M518.2 1005.9H518.3M518.2 1008.3H518.3M518.2 1010.8H518.3M518.2 1013.3H518.3M518.3 1015.7H518.4M517.8 1018.2H519.1M516.8 1020.6H520.2M514.6 1023.1H521.8M512.1 1025.6H523.5M510.3 1028H525.5M508.7 1030.5H527.6M507.9 1033H529.1M518.2 999.2h.01M518.5 1004h.01M518.4 1010.2h.01M517.7 1015.1h.01M515.1 1021.6h.01M510.2 1026.4h.01M518.1 998.9h.01M518.4 1004.2h.01M518.1 1010.8h.01M519.3 1015.7h.01M521.5 1021h.01M525 1025.9h.01M528.6 1030.9h.01M478.2 1035.6H557.6M518.1 955.3h.01M518.1 961.8h.01M518.1 985.6h.01M518.1 1148.9h.01M504.2 1026.5h.01M493.7 1030h.01M532 1027.4h.01M539.8 1030.5h.01M546.8 1031.9h.01" stroke="#4AAC7F"/>
<path d="M513 1044.6H524.3M513 1047H524.3M513 1049.4H524.3M513.9 1051.7H522.1M515 1054.1H520.8M514.9 1056.5H520.9M514.6 1058.9H521.2M514.3 1061.3H521.4M513.8 1063.7H521.9M512.6 1066.1H523.2M511.4 1068.4H524.6M511 1070.8H525.1M511.3 1073.2H524.6M511.6 1075.6H524.3M511.7 1078H524.1M511.9 1080.4H523.9M512.1 1082.7H523.7M512.2 1085.1H523.5M512.4 1087.5H523.2M512.6 1089.9H523.1M512.7 1092.3H523M512.8 1094.7H522.9M513.1 1097.1H522.7M513.4 1099.4H522.2M513.7 1101.8H521.7M514.1 1104.2H521.3M514.5 1106.6H520.8M515 1109H520.3M515.5 1111.4H519.8M516 1113.8H519.4M516.4 1116.1H519.2M516.9 1118.5H518.9M517.4 1120.9H518.7M517.9 1123.3H518.3M518.1 1125.7H518.2M518.2 1128.1H518.3M518.3 1130.5H518.4M511.6 1044.8h.01M510.5 1049.5h.01M513.2 1056.5h.01M511.7 1062.8h.01M509.7 1067.8h.01M508.5 1072.6h.01M508.7 1078.1h.01M510.4 1083.6h.01M510.3 1089.8h.01M510.6 1095.9h.01M511.5 1100.7h.01M512.7 1106.2h.01M513.5 1113h.01M515.2 1118.9h.01M515.5 1124.5h.01M526 1046.3h.01M523 1052.6h.01M523.1 1058.8h.01M524.8 1064.4h.01M528.1 1070.5h.01M525.9 1076.1h.01M525.7 1082.3h.01M525.6 1087.5h.01M525 1093.1h.01M524.3 1098.6h.01M523.8 1105.4h.01M521.5 1111.6h.01M521.3 1117.1h.01M521.2 1124h.01M519.8 1129.8h.01" stroke="#4AAC7F"/>
<path d="M598.3 1058.8h.01M598.3 1066.3h.01" stroke="#4AAC7F"/>
<path d="M643.6 938.4H646.2M643.2 940.8H646.7M643 943.2H647.2M642.7 945.6H647.7M642.6 948H648M642.7 950.4H647.9M642.8 952.8H647.8M642.8 955.1H647.7M642.9 957.5H647.7M643 959.9H647.6M643.1 962.3H647.5M643.1 964.7H647.4M643.2 967.1H647.4M643.3 969.5H647.3M643.4 971.9H647.2M643.5 974.3H647.1M643.6 976.7H647M643.7 979.1H646.8M643.9 981.5H646.7M644 983.9H646.6M644.1 986.3H646.5M644.2 988.7H646.4M644.3 991.1H646.2M644.5 993.5H646.1M644.2 995.9H646.4M644 998.3H646.6M643.7 1000.7H646.8M643.5 1003.1H647.1M643.3 1005.5H647.3M642.9 1007.9H647.6M642.6 1010.3H647.8M642.3 1012.7H648M641.9 1015.1H648.3M641.6 1017.5H648.5M641.5 1019.9H648.6M641.4 1022.3H648.6M641.3 1024.7H648.7M641.1 1027.1H648.8M641 1029.5H648.9M641 1031.8H648.9M641.2 1034.2H648.8M641.3 1036.6H648.7M641.4 1039H648.6M641.5 1041.4H648.5M641.7 1043.8H648.3M641.8 1046.2H648.2M641.9 1048.6H648.1M642.1 1051H648M642.2 1053.4H647.9M642.2 1055.8H647.9M642.3 1058.2H647.8M642.4 1060.6H647.7M642.5 1063H647.7M642.5 1065.4H647.6M642.6 1067.8H647.5M642.7 1070.2H647.4M642.7 1072.6H647.4M642.8 1075H647.3M642.9 1077.4H647.2M643.1 1079.8H647.2M643.2 1082.2H647.1M643.3 1084.6H647M643.4 1087H646.9M643.5 1089.4H646.9M643.7 1091.8H646.8M643.8 1094.2H646.7M643.9 1096.6H646.6M644 1099H646.6M644.1 1101.4H646.5M644.1 1103.8H646.4M644.1 1106.2H646.3M644.2 1108.5H646.2M644.2 1110.9H646.1M644.3 1113.3H646M644.3 1115.7H645.9M644.4 1118.1H645.8M644.4 1120.5H645.7M644.6 1122.9H645.5M644.8 1125.3H645.2M645 1127.7H645.1M644.9 1130.1H645M644.9 1132.5H645M644.9 1134.9H645" stroke="#D9641E"/>
</g>
<path d="M43.4 47.2 V318 H683" fill="none" stroke="#111" stroke-width="2.15" stroke-linejoin="round"/>
<text x="0.5" y="20" font-size="29" font-weight="bold" fill="#000">A</text>
<text transform="translate(33.4 182.2) rotate(-90)" text-anchor="middle" font-size="20.25" font-weight="bold" fill="#000">Body Size</text>
<text x="104.2" y="314" text-anchor="middle" font-size="22.8" fill="#000" stroke="#000" stroke-width="0.3">n=571</text>
<text x="105.2" y="339" text-anchor="middle" font-size="16" fill="#111" stroke="#111" stroke-width="0.25">Sharks</text>
<text x="207.7" y="314" text-anchor="middle" font-size="22.8" fill="#000" stroke="#000" stroke-width="0.3">n=9400</text>
<text x="208.5" y="339" text-anchor="middle" font-size="16" fill="#111" stroke="#111" stroke-width="0.25">Fish</text>
<text x="311.3" y="314" text-anchor="middle" font-size="22.8" fill="#000" stroke="#000" stroke-width="0.3">n=4595</text>
<text x="311.8" y="339" text-anchor="middle" font-size="16" fill="#111" stroke="#111" stroke-width="0.25">Amphibians</text>
<text x="414.9" y="314" text-anchor="middle" font-size="22.8" fill="#000" stroke="#000" stroke-width="0.3">n=3213</text>
<text x="415.1" y="339" text-anchor="middle" font-size="16" fill="#111" stroke="#111" stroke-width="0.25">Reptiles</text>
<text x="518.4" y="314" text-anchor="middle" font-size="22.8" fill="#000" stroke="#000" stroke-width="0.3">n=1615</text>
<text x="518.4" y="339" text-anchor="middle" font-size="16" fill="#111" stroke="#111" stroke-width="0.25">Birds</text>
<text x="622" y="314" text-anchor="middle" font-size="22.8" fill="#000" stroke="#000" stroke-width="0.3">n=3921</text>
<text x="621.7" y="339" text-anchor="middle" font-size="16" fill="#111" stroke="#111" stroke-width="0.25">Mammals</text>
<circle cx="254.3" cy="388.5" r="4.5" fill="#4AAC7F"/>
<text x="270.3" y="394.2" font-size="16" fill="#111" stroke="#111" stroke-width="0.25">Egg Laying</text>
<circle cx="365.9" cy="388.5" r="4.5" fill="#D9641E"/>
<text x="381.8" y="394.2" font-size="16" fill="#111" stroke="#111" stroke-width="0.25">Live Bearing</text>
<path d="M43.4 480.1 V750.9 H683" fill="none" stroke="#111" stroke-width="2.15" stroke-linejoin="round"/>
<text x="0.5" y="452.9" font-size="29" font-weight="bold" fill="#000">B</text>
<text transform="translate(33.4 615.1) rotate(-90)" text-anchor="middle" font-size="20.25" font-weight="bold" fill="#000">Juvenile Mortality</text>
<text x="104.2" y="746.9" text-anchor="middle" font-size="22.8" fill="#000" stroke="#000" stroke-width="0.3">n=115</text>
<text x="105.2" y="771.9" text-anchor="middle" font-size="16" fill="#111" stroke="#111" stroke-width="0.25">Sharks</text>
<text x="207.7" y="746.9" text-anchor="middle" font-size="22.8" fill="#000" stroke="#000" stroke-width="0.3">n=317</text>
<text x="208.5" y="771.9" text-anchor="middle" font-size="16" fill="#111" stroke="#111" stroke-width="0.25">Fish</text>
<text x="311.3" y="746.9" text-anchor="middle" font-size="22.8" fill="#000" stroke="#000" stroke-width="0.3">n=260</text>
<text x="311.8" y="771.9" text-anchor="middle" font-size="16" fill="#111" stroke="#111" stroke-width="0.25">Amphibians</text>
<text x="414.9" y="746.9" text-anchor="middle" font-size="22.8" fill="#000" stroke="#000" stroke-width="0.3">n=215</text>
<text x="415.1" y="771.9" text-anchor="middle" font-size="16" fill="#111" stroke="#111" stroke-width="0.25">Reptiles</text>
<text x="518.4" y="746.9" text-anchor="middle" font-size="22.8" fill="#000" stroke="#000" stroke-width="0.3">n=1028</text>
<text x="518.4" y="771.9" text-anchor="middle" font-size="16" fill="#111" stroke="#111" stroke-width="0.25">Birds</text>
<text x="622" y="746.9" text-anchor="middle" font-size="22.8" fill="#000" stroke="#000" stroke-width="0.3">n=1552</text>
<text x="621.7" y="771.9" text-anchor="middle" font-size="16" fill="#111" stroke="#111" stroke-width="0.25">Mammals</text>
<circle cx="254.3" cy="821.4" r="4.5" fill="#4AAC7F"/>
<text x="270.3" y="827.1" font-size="16" fill="#111" stroke="#111" stroke-width="0.25">Egg Laying</text>
<circle cx="365.9" cy="821.4" r="4.5" fill="#D9641E"/>
<text x="381.8" y="827.1" font-size="16" fill="#111" stroke="#111" stroke-width="0.25">Live Bearing</text>
<path d="M43.4 913 V1183.8 H683" fill="none" stroke="#111" stroke-width="2.15" stroke-linejoin="round"/>
<text x="0.5" y="885.8" font-size="29" font-weight="bold" fill="#000">C</text>
<text transform="translate(33.4 1048) rotate(-90)" text-anchor="middle" font-size="20.25" font-weight="bold" fill="#000">Adult Mortality</text>
<text x="104.2" y="1179.8" text-anchor="middle" font-size="22.8" fill="#000" stroke="#000" stroke-width="0.3">n=158</text>
<text x="105.2" y="1204.8" text-anchor="middle" font-size="16" fill="#111" stroke="#111" stroke-width="0.25">Sharks</text>
<text x="207.7" y="1179.8" text-anchor="middle" font-size="22.8" fill="#000" stroke="#000" stroke-width="0.3">n=834</text>
<text x="208.5" y="1204.8" text-anchor="middle" font-size="16" fill="#111" stroke="#111" stroke-width="0.25">Fish</text>
<text x="311.3" y="1179.8" text-anchor="middle" font-size="22.8" fill="#000" stroke="#000" stroke-width="0.3">n=419</text>
<text x="311.8" y="1204.8" text-anchor="middle" font-size="16" fill="#111" stroke="#111" stroke-width="0.25">Amphibians</text>
<text x="414.9" y="1179.8" text-anchor="middle" font-size="22.8" fill="#000" stroke="#000" stroke-width="0.3">n=797</text>
<text x="415.1" y="1204.8" text-anchor="middle" font-size="16" fill="#111" stroke="#111" stroke-width="0.25">Reptiles</text>
<text x="518.4" y="1179.8" text-anchor="middle" font-size="22.8" fill="#000" stroke="#000" stroke-width="0.3">n=1228</text>
<text x="518.4" y="1204.8" text-anchor="middle" font-size="16" fill="#111" stroke="#111" stroke-width="0.25">Birds</text>
<text x="622" y="1179.8" text-anchor="middle" font-size="22.8" fill="#000" stroke="#000" stroke-width="0.3">n=2000</text>
<text x="621.7" y="1204.8" text-anchor="middle" font-size="16" fill="#111" stroke="#111" stroke-width="0.25">Mammals</text>
<circle cx="254.3" cy="1254.3" r="4.5" fill="#4AAC7F"/>
<text x="270.3" y="1260" font-size="16" fill="#111" stroke="#111" stroke-width="0.25">Egg Laying</text>
<circle cx="365.9" cy="1254.3" r="4.5" fill="#D9641E"/>
<text x="381.8" y="1260" font-size="16" fill="#111" stroke="#111" stroke-width="0.25">Live Bearing</text>
</svg>
</body></html>
